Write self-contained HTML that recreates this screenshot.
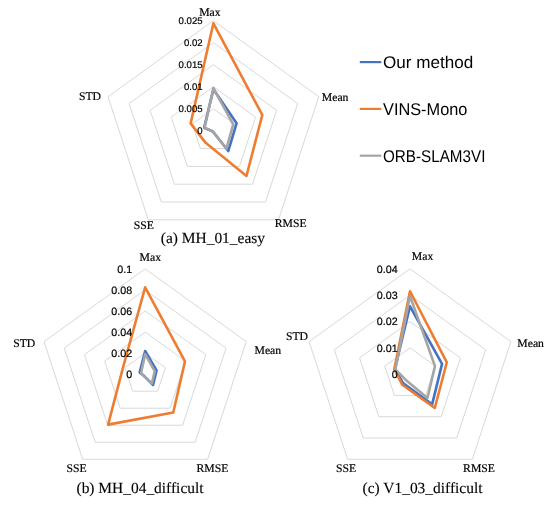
<!DOCTYPE html>
<html><head><meta charset="utf-8"><title>Radar charts</title>
<style>
html,body{margin:0;padding:0;background:#fff;}
svg{display:block}
text{text-rendering:geometricPrecision}
.tk{font-family:"Liberation Sans",sans-serif;fill:#000;stroke:#000;stroke-width:0.2px}
.ax{font-family:"Liberation Serif",serif;font-size:11.7px;fill:#000;stroke:#000;stroke-width:0.2px}
.cap{font-family:"Liberation Serif",serif;font-size:15.45px;fill:#000;stroke:#000;stroke-width:0.12px}
.lg{font-family:"Liberation Sans",sans-serif;font-size:17px;fill:#000}
</style></head><body>
<svg width="550" height="507" viewBox="0 0 550 507">
<rect width="550" height="507" fill="#fff"/>
<polygon points="213.40,108.73 234.48,123.95 226.43,148.56 200.37,148.56 192.32,123.95" fill="none" stroke="#D9D9D9" stroke-width="1"/>
<polygon points="213.40,86.71 255.55,117.14 239.45,166.38 187.35,166.38 171.25,117.14" fill="none" stroke="#D9D9D9" stroke-width="1"/>
<polygon points="213.40,64.69 276.63,110.34 252.48,184.19 174.32,184.19 150.17,110.34" fill="none" stroke="#D9D9D9" stroke-width="1"/>
<polygon points="213.40,42.67 297.70,103.53 265.50,202.01 161.30,202.01 129.10,103.53" fill="none" stroke="#D9D9D9" stroke-width="1"/>
<polygon points="213.40,20.65 318.78,96.73 278.53,219.82 148.27,219.82 108.02,96.73" fill="none" stroke="#D9D9D9" stroke-width="1"/>
<polygon points="213.40,89.35 236.58,123.26 228.25,151.06 212.88,131.46 204.13,127.76" fill="none" stroke="#4472C4" stroke-width="2.6" stroke-linejoin="round"/>
<polygon points="213.40,23.29 262.29,114.96 246.48,176.00 205.06,142.15 190.64,123.40" fill="none" stroke="#ED7D31" stroke-width="2.6" stroke-linejoin="round"/>
<polygon points="213.40,88.03 233.21,124.35 226.43,148.56 212.88,131.46 204.55,127.89" fill="none" stroke="#A5A5A5" stroke-width="2.6" stroke-linejoin="round"/>
<text class="tk" font-size="9.6" transform="translate(202.6,134.2) scale(1,1)" text-anchor="end">0</text>
<text class="tk" font-size="9.6" transform="translate(202.6,112.1) scale(1,1)" text-anchor="end">0.005</text>
<text class="tk" font-size="9.6" transform="translate(202.6,90.1) scale(1,1)" text-anchor="end">0.01</text>
<text class="tk" font-size="9.6" transform="translate(202.6,68.1) scale(1,1)" text-anchor="end">0.015</text>
<text class="tk" font-size="9.6" transform="translate(202.6,46.1) scale(1,1)" text-anchor="end">0.02</text>
<text class="tk" font-size="9.6" transform="translate(202.6,24.1) scale(1,1)" text-anchor="end">0.025</text>
<text class="ax" x="199.2" y="15.6" text-anchor="start">Max</text>
<text class="ax" x="321.8" y="101.0" text-anchor="start">Mean</text>
<text class="ax" x="274.7" y="227.1" text-anchor="start">RMSE</text>
<text class="ax" x="133.8" y="228.6" text-anchor="start">SSE</text>
<text class="ax" x="78.9" y="100.2" text-anchor="start">STD</text>
<text class="cap" x="160.8" y="242.7">(a) MH_01_easy</text>
<polygon points="145.15,353.10 165.37,367.65 157.65,391.18 132.65,391.18 124.93,367.65" fill="none" stroke="#D9D9D9" stroke-width="1"/>
<polygon points="145.15,332.05 185.59,361.14 170.14,408.21 120.16,408.21 104.71,361.14" fill="none" stroke="#D9D9D9" stroke-width="1"/>
<polygon points="145.15,311.00 205.81,354.64 182.64,425.24 107.66,425.24 84.49,354.64" fill="none" stroke="#D9D9D9" stroke-width="1"/>
<polygon points="145.15,289.95 226.03,348.13 195.14,442.27 95.16,442.27 64.27,348.13" fill="none" stroke="#D9D9D9" stroke-width="1"/>
<polygon points="145.15,268.90 246.25,341.63 207.63,459.30 82.67,459.30 44.05,341.63" fill="none" stroke="#D9D9D9" stroke-width="1"/>
<polygon points="145.15,351.00 156.57,370.47 153.09,384.96 143.90,375.85 139.69,372.39" fill="none" stroke="#4472C4" stroke-width="2.6" stroke-linejoin="round"/>
<polygon points="145.15,287.32 184.98,361.34 173.27,412.47 108.10,424.64 123.11,367.06" fill="none" stroke="#ED7D31" stroke-width="2.6" stroke-linejoin="round"/>
<polygon points="145.15,354.15 154.75,371.06 151.90,383.35 143.90,375.85 141.11,372.85" fill="none" stroke="#A5A5A5" stroke-width="2.6" stroke-linejoin="round"/>
<text class="tk" font-size="10.7" transform="translate(132.1,377.8) scale(1,1)" text-anchor="end">0</text>
<text class="tk" font-size="10.7" transform="translate(132.1,356.8) scale(1,1)" text-anchor="end">0.02</text>
<text class="tk" font-size="10.7" transform="translate(132.1,335.7) scale(1,1)" text-anchor="end">0.04</text>
<text class="tk" font-size="10.7" transform="translate(132.1,314.7) scale(1,1)" text-anchor="end">0.06</text>
<text class="tk" font-size="10.7" transform="translate(132.1,293.6) scale(1,1)" text-anchor="end">0.08</text>
<text class="tk" font-size="10.7" transform="translate(132.1,272.6) scale(1,1)" text-anchor="end">0.1</text>
<text class="ax" x="139.6" y="260.7" text-anchor="start">Max</text>
<text class="ax" x="254.5" y="353.6" text-anchor="start">Mean</text>
<text class="ax" x="196.5" y="472.0" text-anchor="start">RMSE</text>
<text class="ax" x="66.5" y="472.2" text-anchor="start">SSE</text>
<text class="ax" x="13.2" y="347.4" text-anchor="start">STD</text>
<text class="cap" x="76.5" y="493.4">(b) MH_04_difficult</text>
<polygon points="410.00,347.84 435.23,366.02 425.59,395.44 394.41,395.44 384.77,366.02" fill="none" stroke="#D9D9D9" stroke-width="1"/>
<polygon points="410.00,321.52 460.45,357.89 441.18,416.72 378.82,416.72 359.55,357.89" fill="none" stroke="#D9D9D9" stroke-width="1"/>
<polygon points="410.00,295.21 485.68,349.76 456.77,438.01 363.23,438.01 334.32,349.76" fill="none" stroke="#D9D9D9" stroke-width="1"/>
<polygon points="410.00,268.90 510.91,341.63 472.36,459.30 347.64,459.30 309.09,341.63" fill="none" stroke="#D9D9D9" stroke-width="1"/>
<polygon points="410.00,306.26 442.04,363.82 432.14,404.38 403.30,383.30 394.86,369.27" fill="none" stroke="#4472C4" stroke-width="2.6" stroke-linejoin="round"/>
<polygon points="410.00,291.27 446.83,362.28 434.79,408.00 402.20,384.79 394.36,369.11" fill="none" stroke="#ED7D31" stroke-width="2.6" stroke-linejoin="round"/>
<polygon points="410.00,296.00 434.97,366.10 427.46,397.99 405.79,379.90 395.37,369.43" fill="none" stroke="#A5A5A5" stroke-width="2.6" stroke-linejoin="round"/>
<text class="tk" font-size="10.7" transform="translate(397.6,378.0) scale(1,1)" text-anchor="end">0</text>
<text class="tk" font-size="10.7" transform="translate(397.6,351.7) scale(1,1)" text-anchor="end">0.01</text>
<text class="tk" font-size="10.7" transform="translate(397.6,325.4) scale(1,1)" text-anchor="end">0.02</text>
<text class="tk" font-size="10.7" transform="translate(397.6,299.1) scale(1,1)" text-anchor="end">0.03</text>
<text class="tk" font-size="10.7" transform="translate(397.6,272.8) scale(1,1)" text-anchor="end">0.04</text>
<text class="ax" x="411.8" y="260.2" text-anchor="start">Max</text>
<text class="ax" x="517.3" y="347.4" text-anchor="start">Mean</text>
<text class="ax" x="463.1" y="472.1" text-anchor="start">RMSE</text>
<text class="ax" x="335.9" y="472.2" text-anchor="start">SSE</text>
<text class="ax" x="285.9" y="339.6" text-anchor="start">STD</text>
<text class="cap" x="362.6" y="493.4">(c) V1_03_difficult</text>
<line x1="359.8" y1="62.1" x2="381.3" y2="62.1" stroke="#4472C4" stroke-width="2.2"/>
<text class="lg" x="383" y="68.2" textLength="90.2" lengthAdjust="spacingAndGlyphs">Our method</text>
<line x1="359.8" y1="108.9" x2="381.3" y2="108.9" stroke="#ED7D31" stroke-width="2.2"/>
<text class="lg" x="383" y="115.0" textLength="84.4" lengthAdjust="spacingAndGlyphs">VINS-Mono</text>
<line x1="359.8" y1="155.7" x2="381.3" y2="155.7" stroke="#A5A5A5" stroke-width="2.2"/>
<text class="lg" x="383" y="161.8" textLength="102.4" lengthAdjust="spacingAndGlyphs">ORB-SLAM3VI</text>
</svg>
</body></html>
